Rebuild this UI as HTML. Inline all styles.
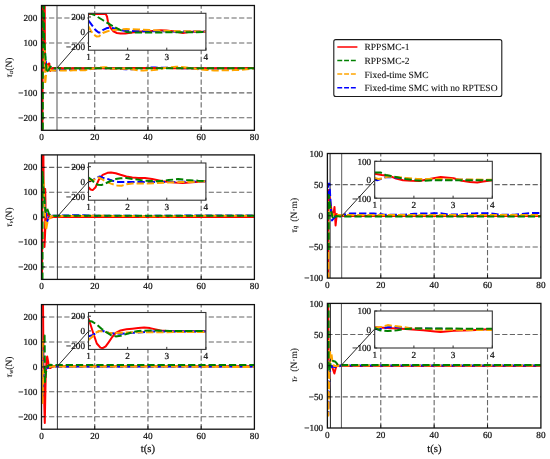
<!DOCTYPE html>
<html><head><meta charset="utf-8"><style>
html,body{margin:0;padding:0;background:#fff;}
body{width:550px;height:459px;overflow:hidden;}
svg{display:block;}
</style></head><body>
<svg width="550" height="459" viewBox="0 0 550 459" font-family='"Liberation Serif", "DejaVu Serif", serif' fill="#111111">
<style>text{stroke:#111;stroke-width:0.22px;text-rendering:geometricPrecision;}</style>
<rect width="550" height="459" fill="#ffffff"/>
<defs>
<clipPath id="c0"><rect x="41.5" y="5.5" width="212.9" height="124.8"/></clipPath>
<clipPath id="c1"><rect x="41.5" y="154.9" width="212.9" height="124.5"/></clipPath>
<clipPath id="c2"><rect x="41.5" y="304.6" width="212.9" height="124.6"/></clipPath>
<clipPath id="c3"><rect x="327.4" y="153.5" width="213.5" height="124.6"/></clipPath>
<clipPath id="c4"><rect x="327.4" y="303.4" width="213.5" height="124.6"/></clipPath>
<clipPath id="c5"><rect x="88.5" y="13.3" width="117.4" height="36.9"/></clipPath>
<clipPath id="c6"><rect x="88.5" y="163" width="117.4" height="37.2"/></clipPath>
<clipPath id="c7"><rect x="88.5" y="312.5" width="117.4" height="36.9"/></clipPath>
<clipPath id="c8"><rect x="374.7" y="161.3" width="117.6" height="36.9"/></clipPath>
<clipPath id="c9"><rect x="374.7" y="311" width="117.6" height="37"/></clipPath>
</defs>
<line x1="94.72" y1="130.3" x2="94.72" y2="5.5" stroke="#666666" stroke-width="1.1" stroke-dasharray="5.2 2.4"/>
<line x1="147.95" y1="130.3" x2="147.95" y2="5.5" stroke="#666666" stroke-width="1.1" stroke-dasharray="5.2 2.4"/>
<line x1="201.18" y1="130.3" x2="201.18" y2="5.5" stroke="#666666" stroke-width="1.1" stroke-dasharray="5.2 2.4"/>
<line x1="41.5" y1="117.82" x2="254.4" y2="117.82" stroke="#666666" stroke-width="1.1" stroke-dasharray="5.2 2.4"/>
<line x1="41.5" y1="92.86" x2="254.4" y2="92.86" stroke="#666666" stroke-width="1.1" stroke-dasharray="5.2 2.4"/>
<line x1="41.5" y1="67.9" x2="254.4" y2="67.9" stroke="#666666" stroke-width="1.1" stroke-dasharray="5.2 2.4"/>
<line x1="41.5" y1="42.94" x2="254.4" y2="42.94" stroke="#666666" stroke-width="1.1" stroke-dasharray="5.2 2.4"/>
<line x1="41.5" y1="17.98" x2="254.4" y2="17.98" stroke="#666666" stroke-width="1.1" stroke-dasharray="5.2 2.4"/>
<g clip-path="url(#c0)">
<polyline points="43,20 43,35 45.3,58.5 46.5,66 48,69 51,70 56,70.5 56,70 59.31,69.93 62.61,69.86 65.92,69.79 69.23,69.72 72.53,69.66 75.84,69.59 79.15,69.52 82.45,69.32 85.76,69.07 89.07,68.82 92.37,68.57 95.68,68.32 98.99,68.08 102.29,68.11 105.6,68.28 108.91,68.45 112.21,68.61 115.52,68.78 118.83,68.94 122.13,69.11 125.44,69.27 128.75,69.44 132.05,69.29 135.36,68.96 138.67,68.63 141.97,68.3 145.28,67.97 148.59,67.64 151.89,67.54 155.2,67.6 158.51,67.67 161.81,67.74 165.12,67.8 168.43,67.87 171.73,67.93 175.04,68 178.35,68.09 181.65,68.19 184.96,68.28 188.27,68.37 191.57,68.46 194.88,68.56 198.19,68.65 201.49,68.69 204.8,68.67 208.11,68.64 211.41,68.62 214.72,68.59 218.03,68.57 221.33,68.54 224.64,68.52 227.95,68.5 231.25,68.47 234.56,68.45 237.87,68.42 241.17,68.4 244.48,68.38 247.79,68.35 251.09,68.33 254.4,68.3" fill="none" stroke="#0000ff" stroke-width="2.0" stroke-dasharray="7.3 2.9" stroke-linejoin="round"/>
<polyline points="42.4,140 42.8,-10 44.7,-10 44.9,62 46.5,70 48.2,64 49.3,63.5 50.2,71 51.5,69 53,68.2 53,68.1 58.03,68.12 63.07,68.14 68.11,68.16 73.14,68.19 78.17,68.21 83.21,68.23 88.25,68.25 93.28,68.27 98.31,68.29 103.35,68.28 108.39,68.25 113.42,68.22 118.46,68.19 123.49,68.16 128.53,68.13 133.56,68.1 138.59,68.07 143.63,68.04 148.66,68.01 153.7,68.02 158.74,68.05 163.77,68.08 168.81,68.11 173.84,68.14 178.88,68.17 183.91,68.2 188.94,68.23 193.98,68.26 199.02,68.29 204.05,68.29 209.09,68.27 214.12,68.25 219.16,68.23 224.19,68.21 229.22,68.19 234.26,68.18 239.3,68.16 244.33,68.14 249.37,68.12 254.4,68.1" fill="none" stroke="#ff0000" stroke-width="2.0" stroke-linejoin="round"/>
<polyline points="44.6,45 45.2,84 46,75 47.5,66 49.5,68 51,70.5 53,70.5 53,70.5 55.52,70.48 58.03,70.47 60.55,70.45 63.07,70.44 65.59,70.42 68.11,70.41 70.62,70.39 73.14,70.37 75.66,70.36 78.17,70.34 80.69,70.33 83.21,70.31 85.73,70.13 88.25,69.55 90.76,68.97 93.28,68.4 95.8,67.92 98.31,67.67 100.83,67.42 103.35,67.17 105.87,67.21 108.39,67.82 110.9,68.43 113.42,68.7 115.94,68.7 118.46,68.7 120.97,68.7 123.49,68.7 126.01,68.7 128.53,68.78 131.04,69.16 133.56,69.53 136.08,69.91 138.59,70.29 141.11,70.46 143.63,70.38 146.15,70.3 148.66,70.21 151.18,70.13 153.7,70.04 156.22,69.76 158.74,69.25 161.25,68.75 163.77,68.25 166.29,67.85 168.81,67.56 171.32,67.27 173.84,66.98 176.36,66.69 178.88,66.61 181.39,66.92 183.91,67.24 186.43,67.55 188.94,67.87 191.46,68.22 193.98,68.6 196.5,68.97 199.02,69.35 201.53,69.6 204.05,69.77 206.57,69.94 209.09,70.11 211.6,70.27 214.12,70.44 216.64,70.47 219.16,70.42 221.67,70.37 224.19,70.32 226.71,70.27 229.22,70.22 231.74,70.17 234.26,70.11 236.78,70.06 239.3,70.01 241.81,69.82 244.33,69.57 246.85,69.32 249.37,69.06 251.88,68.81 254.4,68.56" fill="none" stroke="#ffa500" stroke-width="2.0" stroke-dasharray="7.3 2.9" stroke-linejoin="round"/>
<polyline points="42.8,140 42.8,-10 43.8,-10 44.2,40 46,64 46.6,72.5 48.5,70 50.5,66.5 52,68.2 52,68.2 57.06,68.2 62.12,68.2 67.18,68.2 72.24,68.2 77.3,68.2 82.36,68.2 87.42,68.2 92.48,68.2 97.54,68.2 102.6,68.2 107.66,68.2 112.72,68.2 117.78,68.2 122.84,68.2 127.9,68.2 132.96,68.2 138.02,68.2 143.08,68.2 148.14,68.2 153.2,68.2 158.26,68.2 163.32,68.2 168.38,68.2 173.44,68.2 178.5,68.2 183.56,68.2 188.62,68.2 193.68,68.2 198.74,68.2 203.8,68.2 208.86,68.2 213.92,68.2 218.98,68.2 224.04,68.2 229.1,68.2 234.16,68.2 239.22,68.2 244.28,68.2 249.34,68.2 254.4,68.2" fill="none" stroke="#008000" stroke-width="2.0" stroke-dasharray="7.3 2.9" stroke-linejoin="round"/>
</g>
<line x1="57.0" y1="5.5" x2="57.0" y2="130.3" stroke="#8c8c8c" stroke-width="1.5"/>
<line x1="94.72" y1="130.3" x2="94.72" y2="126.8" stroke="#111111" stroke-width="0.9"/>
<line x1="147.95" y1="130.3" x2="147.95" y2="126.8" stroke="#111111" stroke-width="0.9"/>
<line x1="201.18" y1="130.3" x2="201.18" y2="126.8" stroke="#111111" stroke-width="0.9"/>
<line x1="41.5" y1="117.82" x2="45" y2="117.82" stroke="#111111" stroke-width="0.9"/>
<line x1="41.5" y1="92.86" x2="45" y2="92.86" stroke="#111111" stroke-width="0.9"/>
<line x1="41.5" y1="67.9" x2="45" y2="67.9" stroke="#111111" stroke-width="0.9"/>
<line x1="41.5" y1="42.94" x2="45" y2="42.94" stroke="#111111" stroke-width="0.9"/>
<line x1="41.5" y1="17.98" x2="45" y2="17.98" stroke="#111111" stroke-width="0.9"/>
<rect x="41.5" y="5.5" width="212.9" height="124.8" fill="none" stroke="#111111" stroke-width="1.3"/>
<text x="41.5" y="140.3" font-size="9.2" text-anchor="middle">0</text>
<text x="94.72" y="140.3" font-size="9.2" text-anchor="middle">20</text>
<text x="147.95" y="140.3" font-size="9.2" text-anchor="middle">40</text>
<text x="201.18" y="140.3" font-size="9.2" text-anchor="middle">60</text>
<text x="254.4" y="140.3" font-size="9.2" text-anchor="middle">80</text>
<text x="37.3" y="120.92" font-size="9.2" text-anchor="end">−200</text>
<text x="37.3" y="95.96" font-size="9.2" text-anchor="end">−100</text>
<text x="37.3" y="71" font-size="9.2" text-anchor="end">0</text>
<text x="37.3" y="46.04" font-size="9.2" text-anchor="end">100</text>
<text x="37.3" y="21.08" font-size="9.2" text-anchor="end">200</text>
<line x1="94.72" y1="279.4" x2="94.72" y2="154.9" stroke="#666666" stroke-width="1.1" stroke-dasharray="5.2 2.4"/>
<line x1="147.95" y1="279.4" x2="147.95" y2="154.9" stroke="#666666" stroke-width="1.1" stroke-dasharray="5.2 2.4"/>
<line x1="201.18" y1="279.4" x2="201.18" y2="154.9" stroke="#666666" stroke-width="1.1" stroke-dasharray="5.2 2.4"/>
<line x1="41.5" y1="266.95" x2="254.4" y2="266.95" stroke="#666666" stroke-width="1.1" stroke-dasharray="5.2 2.4"/>
<line x1="41.5" y1="242.05" x2="254.4" y2="242.05" stroke="#666666" stroke-width="1.1" stroke-dasharray="5.2 2.4"/>
<line x1="41.5" y1="217.15" x2="254.4" y2="217.15" stroke="#666666" stroke-width="1.1" stroke-dasharray="5.2 2.4"/>
<line x1="41.5" y1="192.25" x2="254.4" y2="192.25" stroke="#666666" stroke-width="1.1" stroke-dasharray="5.2 2.4"/>
<line x1="41.5" y1="167.35" x2="254.4" y2="167.35" stroke="#666666" stroke-width="1.1" stroke-dasharray="5.2 2.4"/>
<g clip-path="url(#c1)">
<polyline points="42,290 42.4,150 43.4,150 43.6,189 45.2,189 45.5,205 44.5,247 45.6,222 47,214 49,216 51,217.5 53,217.1 53,217.1 58.03,217.1 63.07,217.1 68.11,217.1 73.14,217.1 78.17,217.1 83.21,217.1 88.25,217.1 93.28,217.1 98.31,217.1 103.35,217.1 108.39,217.1 113.42,217.1 118.46,217.1 123.49,217.1 128.53,217.1 133.56,217.1 138.59,217.1 143.63,217.1 148.66,217.1 153.7,217.1 158.74,217.1 163.77,217.1 168.81,217.1 173.84,217.1 178.88,217.1 183.91,217.1 188.94,217.1 193.98,217.1 199.02,217.1 204.05,217.1 209.09,217.1 214.12,217.1 219.16,217.1 224.19,217.1 229.22,217.1 234.26,217.1 239.3,217.1 244.33,217.1 249.37,217.1 254.4,217.1" fill="none" stroke="#ff0000" stroke-width="2.0" stroke-linejoin="round"/>
<polyline points="43.8,190 45,208 47,222 48.5,218 50,216 50,215.8 54.09,215.72 58.18,215.64 62.26,215.55 66.35,215.47 70.44,215.39 74.53,215.31 78.62,215.23 82.7,215.28 86.79,215.4 90.88,215.53 94.97,215.65 99.06,215.77 103.14,215.81 107.23,215.81 111.32,215.82 115.41,215.83 119.5,215.84 123.58,215.85 127.67,215.86 131.76,215.86 135.85,215.87 139.94,215.88 144.02,215.89 148.11,215.9 152.2,215.88 156.29,215.85 160.38,215.82 164.46,215.78 168.55,215.75 172.64,215.72 176.73,215.69 180.82,215.65 184.9,215.62 188.99,215.59 193.08,215.56 197.17,215.52 201.26,215.5 205.34,215.49 209.43,215.48 213.52,215.48 217.61,215.47 221.7,215.46 225.78,215.45 229.87,215.45 233.96,215.44 238.05,215.43 242.14,215.42 246.22,215.42 250.31,215.41 254.4,215.4" fill="none" stroke="#0000ff" stroke-width="2.0" stroke-dasharray="7.3 2.9" stroke-linejoin="round"/>
<polyline points="43.5,180 44.5,205 46,230 47.5,222 49,219 51,217 51,216.2 55.07,216.17 59.14,216.13 63.2,216.1 67.27,216.07 71.34,216.03 75.41,216 79.48,215.97 83.54,215.93 87.61,215.9 91.68,215.87 95.75,215.83 99.82,215.8 103.88,215.83 107.95,215.87 112.02,215.9 116.09,215.93 120.16,215.97 124.22,216 128.29,216.04 132.36,216.07 136.43,216.1 140.5,216.14 144.56,216.17 148.63,216.21 152.7,216.24 156.77,216.27 160.84,216.29 164.9,216.24 168.97,216.19 173.04,216.14 177.11,216.09 181.18,216.04 185.24,215.98 189.31,215.93 193.38,215.88 197.45,215.83 201.52,215.8 205.58,215.79 209.65,215.78 213.72,215.78 217.79,215.77 221.86,215.76 225.92,215.75 229.99,215.75 234.06,215.74 238.13,215.73 242.2,215.72 246.26,215.72 250.33,215.71 254.4,215.7" fill="none" stroke="#ffa500" stroke-width="2.0" stroke-dasharray="7.3 2.9" stroke-linejoin="round"/>
<polyline points="42.5,290 42.5,172 43.2,185 44.5,200 45.5,212 47,208 49,214 51,215.5 53,215.7 53,215.7 58.03,215.7 63.07,215.7 68.11,215.7 73.14,215.7 78.17,215.7 83.21,215.7 88.25,215.7 93.28,215.7 98.31,215.7 103.35,215.7 108.39,215.7 113.42,215.7 118.46,215.7 123.49,215.7 128.53,215.7 133.56,215.7 138.59,215.7 143.63,215.7 148.66,215.7 153.7,215.7 158.74,215.7 163.77,215.7 168.81,215.7 173.84,215.7 178.88,215.7 183.91,215.7 188.94,215.7 193.98,215.7 199.02,215.7 204.05,215.7 209.09,215.7 214.12,215.7 219.16,215.7 224.19,215.7 229.22,215.7 234.26,215.7 239.3,215.7 244.33,215.7 249.37,215.7 254.4,215.7" fill="none" stroke="#008000" stroke-width="2.0" stroke-dasharray="7.3 2.9" stroke-linejoin="round"/>
</g>
<line x1="57.4" y1="154.9" x2="57.4" y2="279.4" stroke="#3a3a3a" stroke-width="1.0"/>
<line x1="94.72" y1="279.4" x2="94.72" y2="275.9" stroke="#111111" stroke-width="0.9"/>
<line x1="147.95" y1="279.4" x2="147.95" y2="275.9" stroke="#111111" stroke-width="0.9"/>
<line x1="201.18" y1="279.4" x2="201.18" y2="275.9" stroke="#111111" stroke-width="0.9"/>
<line x1="41.5" y1="266.95" x2="45" y2="266.95" stroke="#111111" stroke-width="0.9"/>
<line x1="41.5" y1="242.05" x2="45" y2="242.05" stroke="#111111" stroke-width="0.9"/>
<line x1="41.5" y1="217.15" x2="45" y2="217.15" stroke="#111111" stroke-width="0.9"/>
<line x1="41.5" y1="192.25" x2="45" y2="192.25" stroke="#111111" stroke-width="0.9"/>
<line x1="41.5" y1="167.35" x2="45" y2="167.35" stroke="#111111" stroke-width="0.9"/>
<rect x="41.5" y="154.9" width="212.9" height="124.5" fill="none" stroke="#111111" stroke-width="1.3"/>
<text x="41.5" y="289.4" font-size="9.2" text-anchor="middle">0</text>
<text x="94.72" y="289.4" font-size="9.2" text-anchor="middle">20</text>
<text x="147.95" y="289.4" font-size="9.2" text-anchor="middle">40</text>
<text x="201.18" y="289.4" font-size="9.2" text-anchor="middle">60</text>
<text x="254.4" y="289.4" font-size="9.2" text-anchor="middle">80</text>
<text x="37.3" y="270.05" font-size="9.2" text-anchor="end">−200</text>
<text x="37.3" y="245.15" font-size="9.2" text-anchor="end">−100</text>
<text x="37.3" y="220.25" font-size="9.2" text-anchor="end">0</text>
<text x="37.3" y="195.35" font-size="9.2" text-anchor="end">100</text>
<text x="37.3" y="170.45" font-size="9.2" text-anchor="end">200</text>
<line x1="94.72" y1="429.2" x2="94.72" y2="304.6" stroke="#666666" stroke-width="1.1" stroke-dasharray="5.2 2.4"/>
<line x1="147.95" y1="429.2" x2="147.95" y2="304.6" stroke="#666666" stroke-width="1.1" stroke-dasharray="5.2 2.4"/>
<line x1="201.18" y1="429.2" x2="201.18" y2="304.6" stroke="#666666" stroke-width="1.1" stroke-dasharray="5.2 2.4"/>
<line x1="41.5" y1="416.74" x2="254.4" y2="416.74" stroke="#666666" stroke-width="1.1" stroke-dasharray="5.2 2.4"/>
<line x1="41.5" y1="391.82" x2="254.4" y2="391.82" stroke="#666666" stroke-width="1.1" stroke-dasharray="5.2 2.4"/>
<line x1="41.5" y1="366.9" x2="254.4" y2="366.9" stroke="#666666" stroke-width="1.1" stroke-dasharray="5.2 2.4"/>
<line x1="41.5" y1="341.98" x2="254.4" y2="341.98" stroke="#666666" stroke-width="1.1" stroke-dasharray="5.2 2.4"/>
<line x1="41.5" y1="317.06" x2="254.4" y2="317.06" stroke="#666666" stroke-width="1.1" stroke-dasharray="5.2 2.4"/>
<g clip-path="url(#c2)">
<polyline points="43,290 43,300 43.6,380 44.8,423 45.6,380 46.5,360 47.2,356.5 48.2,362 49,368 50.5,368 53,366.3 53,366.2 58.03,366.2 63.07,366.2 68.11,366.2 73.14,366.2 78.17,366.2 83.21,366.2 88.25,366.2 93.28,366.2 98.31,366.2 103.35,366.2 108.39,366.2 113.42,366.2 118.46,366.2 123.49,366.2 128.53,366.2 133.56,366.2 138.59,366.2 143.63,366.2 148.66,366.2 153.7,366.2 158.74,366.2 163.77,366.2 168.81,366.2 173.84,366.2 178.88,366.2 183.91,366.2 188.94,366.2 193.98,366.2 199.02,366.2 204.05,366.2 209.09,366.2 214.12,366.2 219.16,366.2 224.19,366.2 229.22,366.2 234.26,366.2 239.3,366.2 244.33,366.2 249.37,366.2 254.4,366.2" fill="none" stroke="#ff0000" stroke-width="2.0" stroke-linejoin="round"/>
<polyline points="43,350 42.8,395 43.4,375 45,370 47,368 50,366.6 50,366.4 55.11,366.4 60.22,366.4 65.33,366.4 70.44,366.4 75.55,366.4 80.66,366.4 85.77,366.4 90.88,366.4 95.99,366.4 101.1,366.4 106.21,366.4 111.32,366.4 116.43,366.4 121.54,366.4 126.65,366.4 131.76,366.4 136.87,366.4 141.98,366.4 147.09,366.4 152.2,366.4 157.31,366.4 162.42,366.4 167.53,366.4 172.64,366.4 177.75,366.4 182.86,366.4 187.97,366.4 193.08,366.4 198.19,366.4 203.3,366.4 208.41,366.4 213.52,366.4 218.63,366.4 223.74,366.4 228.85,366.4 233.96,366.4 239.07,366.4 244.18,366.4 249.29,366.4 254.4,366.4" fill="none" stroke="#0000ff" stroke-width="2.0" stroke-dasharray="7.3 2.9" stroke-linejoin="round"/>
<polyline points="42.6,340 42.4,403 43.2,380 44,370 46,368 50,367 50,366.6 55.11,366.6 60.22,366.6 65.33,366.6 70.44,366.6 75.55,366.6 80.66,366.6 85.77,366.6 90.88,366.6 95.99,366.6 101.1,366.6 106.21,366.6 111.32,366.6 116.43,366.6 121.54,366.6 126.65,366.6 131.76,366.6 136.87,366.6 141.98,366.6 147.09,366.6 152.2,366.6 157.31,366.6 162.42,366.6 167.53,366.6 172.64,366.6 177.75,366.6 182.86,366.6 187.97,366.6 193.08,366.63 198.19,366.68 203.3,366.73 208.41,366.78 213.52,366.82 218.63,366.84 223.74,366.86 228.85,366.88 233.96,366.91 239.07,366.93 244.18,366.95 249.29,366.97 254.4,367" fill="none" stroke="#ffa500" stroke-width="2.0" stroke-dasharray="7.3 2.9" stroke-linejoin="round"/>
<polyline points="44.2,335.5 44.6,335.5 45,382 46,372 47.5,366 50,364.8 53,365 53,365 58.03,365 63.07,365 68.11,365 73.14,365 78.17,365 83.21,365 88.25,365 93.28,365 98.31,365 103.35,365 108.39,365 113.42,365 118.46,365 123.49,365 128.53,365 133.56,365 138.59,365 143.63,365 148.66,365 153.7,365 158.74,365 163.77,365 168.81,365 173.84,365 178.88,365 183.91,365 188.94,365 193.98,365 199.02,365 204.05,365 209.09,365 214.12,365 219.16,365 224.19,365 229.22,365 234.26,365 239.3,365 244.33,365 249.37,365 254.4,365" fill="none" stroke="#008000" stroke-width="2.0" stroke-dasharray="7.3 2.9" stroke-linejoin="round"/>
</g>
<line x1="57.4" y1="304.6" x2="57.4" y2="429.2" stroke="#3a3a3a" stroke-width="1.0"/>
<line x1="94.72" y1="429.2" x2="94.72" y2="425.7" stroke="#111111" stroke-width="0.9"/>
<line x1="147.95" y1="429.2" x2="147.95" y2="425.7" stroke="#111111" stroke-width="0.9"/>
<line x1="201.18" y1="429.2" x2="201.18" y2="425.7" stroke="#111111" stroke-width="0.9"/>
<line x1="41.5" y1="416.74" x2="45" y2="416.74" stroke="#111111" stroke-width="0.9"/>
<line x1="41.5" y1="391.82" x2="45" y2="391.82" stroke="#111111" stroke-width="0.9"/>
<line x1="41.5" y1="366.9" x2="45" y2="366.9" stroke="#111111" stroke-width="0.9"/>
<line x1="41.5" y1="341.98" x2="45" y2="341.98" stroke="#111111" stroke-width="0.9"/>
<line x1="41.5" y1="317.06" x2="45" y2="317.06" stroke="#111111" stroke-width="0.9"/>
<rect x="41.5" y="304.6" width="212.9" height="124.6" fill="none" stroke="#111111" stroke-width="1.3"/>
<text x="41.5" y="439.2" font-size="9.2" text-anchor="middle">0</text>
<text x="94.72" y="439.2" font-size="9.2" text-anchor="middle">20</text>
<text x="147.95" y="439.2" font-size="9.2" text-anchor="middle">40</text>
<text x="201.18" y="439.2" font-size="9.2" text-anchor="middle">60</text>
<text x="254.4" y="439.2" font-size="9.2" text-anchor="middle">80</text>
<text x="37.3" y="419.84" font-size="9.2" text-anchor="end">−200</text>
<text x="37.3" y="394.92" font-size="9.2" text-anchor="end">−100</text>
<text x="37.3" y="370" font-size="9.2" text-anchor="end">0</text>
<text x="37.3" y="345.08" font-size="9.2" text-anchor="end">100</text>
<text x="37.3" y="320.16" font-size="9.2" text-anchor="end">200</text>
<line x1="380.77" y1="278.1" x2="380.77" y2="153.5" stroke="#666666" stroke-width="1.1" stroke-dasharray="5.2 2.4"/>
<line x1="434.15" y1="278.1" x2="434.15" y2="153.5" stroke="#666666" stroke-width="1.1" stroke-dasharray="5.2 2.4"/>
<line x1="487.52" y1="278.1" x2="487.52" y2="153.5" stroke="#666666" stroke-width="1.1" stroke-dasharray="5.2 2.4"/>
<line x1="327.4" y1="246.95" x2="540.9" y2="246.95" stroke="#666666" stroke-width="1.1" stroke-dasharray="5.2 2.4"/>
<line x1="327.4" y1="215.8" x2="540.9" y2="215.8" stroke="#666666" stroke-width="1.1" stroke-dasharray="5.2 2.4"/>
<line x1="327.4" y1="184.65" x2="540.9" y2="184.65" stroke="#666666" stroke-width="1.1" stroke-dasharray="5.2 2.4"/>
<line x1="330.1" y1="153.5" x2="330.1" y2="278.1" stroke="#222222" stroke-width="1.0"/>
<g clip-path="url(#c3)">
<polyline points="328.2,300 328.2,190 330,200 332,214 333.5,214 334.5,207 335.6,225.4 336.8,214 338,216 340,216 340,216 345.02,216 350.05,216 355.07,216 360.09,216 365.11,216 370.13,216 375.16,216 380.18,216 385.2,216 390.23,216 395.25,216 400.27,216 405.29,216 410.31,216 415.34,216 420.36,216 425.38,216 430.4,216 435.43,216 440.45,216 445.47,216 450.5,216 455.52,216 460.54,216 465.56,216 470.58,216 475.61,216 480.63,216 485.65,216 490.67,216 495.7,216 500.72,216 505.74,216 510.76,216 515.79,216 520.81,216 525.83,216 530.86,216 535.88,216 540.9,216" fill="none" stroke="#ff0000" stroke-width="2.0" stroke-linejoin="round"/>
<polyline points="328.4,300 328.2,183.8 329.5,183.8 331,210 332,220.5 334,218 336,216 340,215.5 345,214.5 350,213.6 350,213.6 352.39,213.6 354.77,213.6 357.16,213.6 359.55,213.6 361.93,213.6 364.32,213.6 366.7,213.6 369.09,213.6 371.48,213.6 373.86,213.6 376.25,213.74 378.63,214 381.02,214.26 383.41,214.52 385.79,214.7 388.18,214.72 390.57,214.73 392.95,214.74 395.34,214.75 397.73,214.76 400.11,214.78 402.5,214.79 404.88,214.8 407.27,214.55 409.66,214.29 412.04,214.03 414.43,213.76 416.81,213.66 419.2,213.62 421.59,213.57 423.97,213.52 426.36,213.47 428.75,213.43 431.13,213.38 433.52,213.33 435.9,213.28 438.29,213.23 440.68,213.31 443.06,213.7 445.45,214.09 447.84,214.47 450.22,214.52 452.61,214.55 455,214.57 457.38,214.59 459.77,214.42 462.15,214.18 464.54,213.95 466.93,213.71 469.31,213.47 471.7,213.39 474.08,213.38 476.47,213.37 478.86,213.36 481.24,213.34 483.63,213.33 486.02,213.32 488.4,213.31 490.79,213.41 493.17,213.74 495.56,214.08 497.95,214.41 500.33,214.7 502.72,214.7 505.11,214.7 507.49,214.7 509.88,214.7 512.26,214.7 514.65,214.7 517.04,214.48 519.42,214.23 521.81,213.97 524.2,213.72 526.58,213.46 528.97,213.21 531.36,213.09 533.74,213.07 536.13,213.04 538.51,213.02 540.9,213" fill="none" stroke="#0000ff" stroke-width="2.0" stroke-dasharray="7.3 2.9" stroke-linejoin="round"/>
<polyline points="328.6,300 328.6,200 330,210 332,216 334,214 336,215 339,215 339,215.1 344.05,215.1 349.1,215.1 354.14,215.1 359.19,215.1 364.24,215.1 369.28,215.1 374.33,215.1 379.38,215.1 384.43,215.1 389.48,215.1 394.52,215.1 399.57,215.1 404.62,215.1 409.66,215.1 414.71,215.1 419.76,215.1 424.81,215.1 429.86,215.1 434.9,215.1 439.95,215.1 445,215.1 450.04,215.1 455.09,215.1 460.14,215.1 465.19,215.1 470.24,215.1 475.28,215.1 480.33,215.1 485.38,215.1 490.42,215.1 495.47,215.1 500.52,215.1 505.57,215.1 510.62,215.1 515.66,215.1 520.71,215.1 525.76,215.1 530.8,215.1 535.85,215.1 540.9,215.1" fill="none" stroke="#ffa500" stroke-width="2.0" stroke-dasharray="7.3 2.9" stroke-linejoin="round"/>
<polyline points="328.7,250 328.7,195 330,205 331.5,213 333,219 335,217 337,216 340,216.5 340,216.6 345.02,216.6 350.05,216.6 355.07,216.6 360.09,216.6 365.11,216.6 370.13,216.6 375.16,216.6 380.18,216.6 385.2,216.6 390.23,216.6 395.25,216.6 400.27,216.6 405.29,216.6 410.31,216.6 415.34,216.6 420.36,216.6 425.38,216.6 430.4,216.6 435.43,216.6 440.45,216.6 445.47,216.6 450.5,216.6 455.52,216.6 460.54,216.6 465.56,216.6 470.58,216.6 475.61,216.6 480.63,216.6 485.65,216.6 490.67,216.6 495.7,216.6 500.72,216.6 505.74,216.6 510.76,216.6 515.79,216.6 520.81,216.6 525.83,216.6 530.86,216.6 535.88,216.6 540.9,216.6" fill="none" stroke="#008000" stroke-width="2.0" stroke-dasharray="7.3 2.9" stroke-linejoin="round"/>
</g>
<line x1="341.7" y1="153.5" x2="341.7" y2="278.1" stroke="#5a5a5a" stroke-width="1.0"/>
<line x1="380.77" y1="278.1" x2="380.77" y2="274.6" stroke="#111111" stroke-width="0.9"/>
<line x1="434.15" y1="278.1" x2="434.15" y2="274.6" stroke="#111111" stroke-width="0.9"/>
<line x1="487.52" y1="278.1" x2="487.52" y2="274.6" stroke="#111111" stroke-width="0.9"/>
<line x1="327.4" y1="246.95" x2="330.9" y2="246.95" stroke="#111111" stroke-width="0.9"/>
<line x1="327.4" y1="215.8" x2="330.9" y2="215.8" stroke="#111111" stroke-width="0.9"/>
<line x1="327.4" y1="184.65" x2="330.9" y2="184.65" stroke="#111111" stroke-width="0.9"/>
<rect x="327.4" y="153.5" width="213.5" height="124.6" fill="none" stroke="#111111" stroke-width="1.3"/>
<text x="327.4" y="288.1" font-size="9.2" text-anchor="middle">0</text>
<text x="380.77" y="288.1" font-size="9.2" text-anchor="middle">20</text>
<text x="434.15" y="288.1" font-size="9.2" text-anchor="middle">40</text>
<text x="487.52" y="288.1" font-size="9.2" text-anchor="middle">60</text>
<text x="540.9" y="288.1" font-size="9.2" text-anchor="middle">80</text>
<text x="323.2" y="281.2" font-size="9.2" text-anchor="end">−100</text>
<text x="323.2" y="250.05" font-size="9.2" text-anchor="end">−50</text>
<text x="323.2" y="218.9" font-size="9.2" text-anchor="end">0</text>
<text x="323.2" y="187.75" font-size="9.2" text-anchor="end">50</text>
<text x="323.2" y="156.6" font-size="9.2" text-anchor="end">100</text>
<line x1="380.77" y1="428" x2="380.77" y2="303.4" stroke="#666666" stroke-width="1.1" stroke-dasharray="5.2 2.4"/>
<line x1="434.15" y1="428" x2="434.15" y2="303.4" stroke="#666666" stroke-width="1.1" stroke-dasharray="5.2 2.4"/>
<line x1="487.52" y1="428" x2="487.52" y2="303.4" stroke="#666666" stroke-width="1.1" stroke-dasharray="5.2 2.4"/>
<line x1="327.4" y1="396.85" x2="540.9" y2="396.85" stroke="#666666" stroke-width="1.1" stroke-dasharray="5.2 2.4"/>
<line x1="327.4" y1="365.7" x2="540.9" y2="365.7" stroke="#666666" stroke-width="1.1" stroke-dasharray="5.2 2.4"/>
<line x1="327.4" y1="334.55" x2="540.9" y2="334.55" stroke="#666666" stroke-width="1.1" stroke-dasharray="5.2 2.4"/>
<line x1="330.4" y1="303.4" x2="330.4" y2="428" stroke="#222222" stroke-width="1.0"/>
<g clip-path="url(#c4)">
<polyline points="328,290 328.2,303 328.6,360 330,366 332,366 333.5,371 334.4,373.5 335.5,369 337,365 339,365.8 339,365.9 344.05,365.9 349.1,365.9 354.14,365.9 359.19,365.9 364.24,365.9 369.28,365.9 374.33,365.9 379.38,365.9 384.43,365.9 389.48,365.9 394.52,365.9 399.57,365.9 404.62,365.9 409.66,365.9 414.71,365.9 419.76,365.9 424.81,365.9 429.86,365.9 434.9,365.9 439.95,365.9 445,365.9 450.04,365.9 455.09,365.9 460.14,365.9 465.19,365.9 470.24,365.9 475.28,365.9 480.33,365.9 485.38,365.9 490.42,365.9 495.47,365.9 500.52,365.9 505.57,365.9 510.62,365.9 515.66,365.9 520.71,365.9 525.76,365.9 530.8,365.9 535.85,365.9 540.9,365.9" fill="none" stroke="#ff0000" stroke-width="2.0" stroke-linejoin="round"/>
<polyline points="328.3,360 328.3,415 329.5,375 331,366 335,367 340,366 340,365.5 345.02,365.5 350.05,365.5 355.07,365.5 360.09,365.5 365.11,365.5 370.13,365.5 375.16,365.5 380.18,365.5 385.2,365.5 390.23,365.5 395.25,365.5 400.27,365.5 405.29,365.5 410.31,365.5 415.34,365.5 420.36,365.5 425.38,365.5 430.4,365.5 435.43,365.5 440.45,365.5 445.47,365.5 450.5,365.5 455.52,365.5 460.54,365.5 465.56,365.5 470.58,365.5 475.61,365.5 480.63,365.5 485.65,365.5 490.67,365.5 495.7,365.5 500.72,365.5 505.74,365.5 510.76,365.5 515.79,365.5 520.81,365.5 525.83,365.5 530.86,365.5 535.88,365.5 540.9,365.5" fill="none" stroke="#0000ff" stroke-width="2.0" stroke-dasharray="7.3 2.9" stroke-linejoin="round"/>
<polyline points="328.3,340 328.3,415.6 329.3,380 330.2,352 331.2,351.8 332.5,362 334,366 337,366 340,365.5 340,365.5 345.02,365.5 350.05,365.5 355.07,365.5 360.09,365.5 365.11,365.5 370.13,365.5 375.16,365.5 380.18,365.5 385.2,365.5 390.23,365.5 395.25,365.5 400.27,365.5 405.29,365.5 410.31,365.5 415.34,365.5 420.36,365.5 425.38,365.5 430.4,365.5 435.43,365.5 440.45,365.5 445.47,365.5 450.5,365.5 455.52,365.5 460.54,365.5 465.56,365.5 470.58,365.5 475.61,365.5 480.63,365.5 485.65,365.5 490.67,365.5 495.7,365.5 500.72,365.5 505.74,365.5 510.76,365.5 515.79,365.5 520.81,365.5 525.83,365.5 530.86,365.5 535.88,365.5 540.9,365.5" fill="none" stroke="#ffa500" stroke-width="2.0" stroke-dasharray="7.3 2.9" stroke-linejoin="round"/>
<polyline points="328.6,290 328.6,371 329.8,368 331,362 333,361 335,361.5 336.5,363 338,365 341,364.9 341,364.9 346,364.9 351,364.9 355.99,364.9 360.99,364.9 365.99,364.9 370.99,364.9 375.98,364.9 380.98,364.9 385.98,364.9 390.98,364.9 395.97,364.9 400.97,364.9 405.97,364.9 410.96,364.9 415.96,364.9 420.96,364.9 425.96,364.9 430.95,364.9 435.95,364.9 440.95,364.9 445.95,364.9 450.94,364.9 455.94,364.9 460.94,364.9 465.94,364.9 470.94,364.9 475.93,364.9 480.93,364.9 485.93,364.9 490.92,364.9 495.92,364.9 500.92,364.9 505.92,364.9 510.91,364.9 515.91,364.9 520.91,364.9 525.91,364.9 530.9,364.9 535.9,364.9 540.9,364.9" fill="none" stroke="#008000" stroke-width="2.0" stroke-dasharray="7.3 2.9" stroke-linejoin="round"/>
</g>
<line x1="341.4" y1="303.4" x2="341.4" y2="428" stroke="#555555" stroke-width="1.0"/>
<line x1="380.77" y1="428" x2="380.77" y2="424.5" stroke="#111111" stroke-width="0.9"/>
<line x1="434.15" y1="428" x2="434.15" y2="424.5" stroke="#111111" stroke-width="0.9"/>
<line x1="487.52" y1="428" x2="487.52" y2="424.5" stroke="#111111" stroke-width="0.9"/>
<line x1="327.4" y1="396.85" x2="330.9" y2="396.85" stroke="#111111" stroke-width="0.9"/>
<line x1="327.4" y1="365.7" x2="330.9" y2="365.7" stroke="#111111" stroke-width="0.9"/>
<line x1="327.4" y1="334.55" x2="330.9" y2="334.55" stroke="#111111" stroke-width="0.9"/>
<rect x="327.4" y="303.4" width="213.5" height="124.6" fill="none" stroke="#111111" stroke-width="1.3"/>
<text x="327.4" y="438" font-size="9.2" text-anchor="middle">0</text>
<text x="380.77" y="438" font-size="9.2" text-anchor="middle">20</text>
<text x="434.15" y="438" font-size="9.2" text-anchor="middle">40</text>
<text x="487.52" y="438" font-size="9.2" text-anchor="middle">60</text>
<text x="540.9" y="438" font-size="9.2" text-anchor="middle">80</text>
<text x="323.2" y="431.1" font-size="9.2" text-anchor="end">−100</text>
<text x="323.2" y="399.95" font-size="9.2" text-anchor="end">−50</text>
<text x="323.2" y="368.8" font-size="9.2" text-anchor="end">0</text>
<text x="323.2" y="337.65" font-size="9.2" text-anchor="end">50</text>
<text x="323.2" y="306.5" font-size="9.2" text-anchor="end">100</text>
<text transform="translate(12,67.5) rotate(-90)" font-size="9.5" text-anchor="middle" style="stroke-width:0.08px"><tspan font-style="italic">τ</tspan><tspan font-size="6.6" font-style="italic" dy="0.8">u</tspan><tspan dy="-0.8" dx="0">(N)</tspan></text>
<text transform="translate(12,217.2) rotate(-90)" font-size="9.5" text-anchor="middle" style="stroke-width:0.08px"><tspan font-style="italic">τ</tspan><tspan font-size="6.6" font-style="italic" dy="0.8">v</tspan><tspan dy="-0.8" dx="0">(N)</tspan></text>
<text transform="translate(12,367) rotate(-90)" font-size="9.5" text-anchor="middle" style="stroke-width:0.08px"><tspan font-style="italic">τ</tspan><tspan font-size="6.6" font-style="italic" dy="0.8">w</tspan><tspan dy="-0.8" dx="0">(N)</tspan></text>
<text transform="translate(296.6,215.3) rotate(-90)" font-size="9.5" text-anchor="middle" style="stroke-width:0.08px"><tspan font-style="italic">τ</tspan><tspan font-size="6.6" font-style="italic" dy="0.8">q</tspan><tspan dy="-0.8" dx="2"> (N·m)</tspan></text>
<text transform="translate(296.6,365.1) rotate(-90)" font-size="9.5" text-anchor="middle" style="stroke-width:0.08px"><tspan font-style="italic">τ</tspan><tspan font-size="6.6" font-style="italic" dy="0.8">r</tspan><tspan dy="-0.8" dx="2"> (N·m)</tspan></text>
<text x="147.9" y="451.8" font-size="10.7" text-anchor="middle">t(s)</text>
<text x="434.4" y="451.8" font-size="10.7" text-anchor="middle">t(s)</text>
<line x1="57" y1="68" x2="88.6" y2="31.6" stroke="#111111" stroke-width="0.9"/>
<rect x="88.5" y="13.3" width="117.4" height="36.9" fill="#ffffff"/>
<g clip-path="url(#c5)">
<polyline points="88.5,14 105.7,14 107,16.5 108,21.8 110.4,27.7 113.4,31.3 116.9,33 120.5,33.6 125.2,33.4 132.3,32.5 138.2,31.6 150,31.3 160,30.2 166,30.4 175,31.6 183,33 190,31.8 205.9,31.8" fill="none" stroke="#ff0000" stroke-width="2.0" stroke-linejoin="round"/>
<polyline points="88.5,20.6 92.1,25.4 95.6,30.1 98.6,32.5 100.4,32.5 102.7,30.1 106.3,28.3 109.8,27.7 113.4,28.3 118.1,29.5 124,30.7 132.3,31 150,31.3 205.9,31.6" fill="none" stroke="#0000ff" stroke-width="2.0" stroke-dasharray="7.3 2.9" stroke-linejoin="round"/>
<polyline points="88.5,26.5 90.9,30.7 93.3,34.2 96.8,36.6 99.2,36.2 102.7,33 107.5,31.3 113.4,30.1 120.5,29.5 126.4,29.1 138.2,29.5 150,30.1 170,31 205.9,31.5" fill="none" stroke="#ffa500" stroke-width="2.0" stroke-dasharray="7.3 2.9" stroke-linejoin="round"/>
<polyline points="88.5,12.8 92,14.1 93.9,14.7 102.7,20 108.6,23.6 114.5,27.1 120.5,30.1 126.4,31.9 132.3,32.5 150,32.5 170,32.3 190,32.2 205.9,32" fill="none" stroke="#008000" stroke-width="2.0" stroke-dasharray="7.3 2.9" stroke-linejoin="round"/>
</g>
<line x1="88.5" y1="50.2" x2="88.5" y2="47.7" stroke="#1a1a1a" stroke-width="0.9"/>
<line x1="127.63" y1="50.2" x2="127.63" y2="47.7" stroke="#1a1a1a" stroke-width="0.9"/>
<line x1="166.77" y1="50.2" x2="166.77" y2="47.7" stroke="#1a1a1a" stroke-width="0.9"/>
<line x1="205.9" y1="50.2" x2="205.9" y2="47.7" stroke="#1a1a1a" stroke-width="0.9"/>
<line x1="88.5" y1="46.51" x2="91" y2="46.51" stroke="#1a1a1a" stroke-width="0.9"/>
<line x1="88.5" y1="31.75" x2="91" y2="31.75" stroke="#1a1a1a" stroke-width="0.9"/>
<line x1="88.5" y1="16.99" x2="91" y2="16.99" stroke="#1a1a1a" stroke-width="0.9"/>
<rect x="88.5" y="13.3" width="117.4" height="36.9" fill="none" stroke="#333333" stroke-width="1.1"/>
<text x="88.5" y="59.7" font-size="9.2" text-anchor="middle">1</text>
<text x="127.63" y="59.7" font-size="9.2" text-anchor="middle">2</text>
<text x="166.77" y="59.7" font-size="9.2" text-anchor="middle">3</text>
<text x="205.9" y="59.7" font-size="9.2" text-anchor="middle">4</text>
<text x="85" y="49.81" font-size="9.2" text-anchor="end">−200</text>
<text x="85" y="35.05" font-size="9.2" text-anchor="end">0</text>
<text x="85" y="20.29" font-size="9.2" text-anchor="end">200</text>
<line x1="57.4" y1="216.6" x2="88.5" y2="181.4" stroke="#111111" stroke-width="0.9"/>
<rect x="88.5" y="163" width="117.4" height="37.2" fill="#ffffff"/>
<g clip-path="url(#c6)">
<polyline points="88.5,187.2 90.5,189.5 92.7,190.1 95.6,187.2 98.6,180.1 102.7,174.8 107.5,172.8 111,172.4 115.7,173.2 120.5,174.8 126.4,176.5 132.3,177.5 138.2,178 145,178 152.1,178.9 162.7,181.3 174.6,182.5 182.8,183 192.3,182.2 205.9,181.3" fill="none" stroke="#ff0000" stroke-width="2.0" stroke-linejoin="round"/>
<polyline points="88.5,181.3 92.1,180.7 96.2,177.7 99.8,176.5 102.7,177.7 107.5,178.9 112.2,180.7 118.1,181.9 124,181.9 145,181.9 170,182 205.9,181.3" fill="none" stroke="#0000ff" stroke-width="2.0" stroke-dasharray="7.3 2.9" stroke-linejoin="round"/>
<polyline points="88.5,179.5 92.1,180.7 95.6,178.9 98.6,177.5 101.5,178.9 105.7,181.3 111,183.6 116.9,185.4 121.6,185.8 126.4,184.2 132.3,183.6 145,183.6 156.8,183 168.6,182.5 180.5,182.1 192.3,181.9 205.9,181.3" fill="none" stroke="#ffa500" stroke-width="2.0" stroke-dasharray="7.3 2.9" stroke-linejoin="round"/>
<polyline points="88.5,177.5 92.1,180.1 95,183.6 98,184.8 101.5,185 105.1,183.6 109.8,181.3 115.7,179.1 120.5,178.3 126.4,178 132.3,178.9 145,180.7 156.8,181.3 168.6,180.1 178.1,179.1 186.4,179.9 198.2,180.7 205.9,181" fill="none" stroke="#008000" stroke-width="2.0" stroke-dasharray="7.3 2.9" stroke-linejoin="round"/>
</g>
<line x1="88.5" y1="200.2" x2="88.5" y2="197.7" stroke="#1a1a1a" stroke-width="0.9"/>
<line x1="127.63" y1="200.2" x2="127.63" y2="197.7" stroke="#1a1a1a" stroke-width="0.9"/>
<line x1="166.77" y1="200.2" x2="166.77" y2="197.7" stroke="#1a1a1a" stroke-width="0.9"/>
<line x1="205.9" y1="200.2" x2="205.9" y2="197.7" stroke="#1a1a1a" stroke-width="0.9"/>
<line x1="88.5" y1="196.48" x2="91" y2="196.48" stroke="#1a1a1a" stroke-width="0.9"/>
<line x1="88.5" y1="181.6" x2="91" y2="181.6" stroke="#1a1a1a" stroke-width="0.9"/>
<line x1="88.5" y1="166.72" x2="91" y2="166.72" stroke="#1a1a1a" stroke-width="0.9"/>
<rect x="88.5" y="163" width="117.4" height="37.2" fill="none" stroke="#333333" stroke-width="1.1"/>
<text x="88.5" y="209.7" font-size="9.2" text-anchor="middle">1</text>
<text x="127.63" y="209.7" font-size="9.2" text-anchor="middle">2</text>
<text x="166.77" y="209.7" font-size="9.2" text-anchor="middle">3</text>
<text x="205.9" y="209.7" font-size="9.2" text-anchor="middle">4</text>
<text x="85" y="199.78" font-size="9.2" text-anchor="end">−200</text>
<text x="85" y="184.9" font-size="9.2" text-anchor="end">0</text>
<text x="85" y="170.02" font-size="9.2" text-anchor="end">200</text>
<line x1="57.4" y1="366.3" x2="88.6" y2="331.2" stroke="#111111" stroke-width="0.9"/>
<rect x="88.5" y="312.5" width="117.4" height="36.9" fill="#ffffff"/>
<g clip-path="url(#c7)">
<polyline points="88.5,318.6 90.9,325.7 93.9,335.2 96.8,343.5 100.4,347.6 102.7,348.2 105.7,346.4 108.6,342.3 112.2,337 115.7,332.8 120.5,330.5 126.4,329.3 132.3,328.7 138.2,328.1 144.1,327.5 150,328.1 160.4,330.5 170,331.2 205.9,331.2" fill="none" stroke="#ff0000" stroke-width="2.0" stroke-linejoin="round"/>
<polyline points="88.5,336.4 92.1,335.2 95.6,333.4 99.2,331 102.7,331 108.6,332.8 114.5,333.4 120.5,333.8 126.4,333.4 132.3,332.8 141.7,332.2 150,331.6 205.9,331.6" fill="none" stroke="#0000ff" stroke-width="2.0" stroke-dasharray="7.3 2.9" stroke-linejoin="round"/>
<polyline points="88.5,339.9 92.1,337 95.6,332.8 99.2,331 103.9,331.6 108.6,332.8 114.5,333.1 120.5,332.8 132.3,332.2 150,332.2 205.9,332" fill="none" stroke="#ffa500" stroke-width="2.0" stroke-dasharray="7.3 2.9" stroke-linejoin="round"/>
<polyline points="88.5,321 92.1,321.6 96.8,324.5 101.5,328.7 106.3,332.2 111,335.2 115.7,336.4 120.5,335.8 126.4,334 132.3,332.2 138.2,331 150,330.5 170,331 205.9,331" fill="none" stroke="#008000" stroke-width="2.0" stroke-dasharray="7.3 2.9" stroke-linejoin="round"/>
</g>
<line x1="88.5" y1="349.4" x2="88.5" y2="346.9" stroke="#1a1a1a" stroke-width="0.9"/>
<line x1="127.63" y1="349.4" x2="127.63" y2="346.9" stroke="#1a1a1a" stroke-width="0.9"/>
<line x1="166.77" y1="349.4" x2="166.77" y2="346.9" stroke="#1a1a1a" stroke-width="0.9"/>
<line x1="205.9" y1="349.4" x2="205.9" y2="346.9" stroke="#1a1a1a" stroke-width="0.9"/>
<line x1="88.5" y1="345.71" x2="91" y2="345.71" stroke="#1a1a1a" stroke-width="0.9"/>
<line x1="88.5" y1="330.95" x2="91" y2="330.95" stroke="#1a1a1a" stroke-width="0.9"/>
<line x1="88.5" y1="316.19" x2="91" y2="316.19" stroke="#1a1a1a" stroke-width="0.9"/>
<rect x="88.5" y="312.5" width="117.4" height="36.9" fill="none" stroke="#333333" stroke-width="1.1"/>
<text x="88.5" y="358.9" font-size="9.2" text-anchor="middle">1</text>
<text x="127.63" y="358.9" font-size="9.2" text-anchor="middle">2</text>
<text x="166.77" y="358.9" font-size="9.2" text-anchor="middle">3</text>
<text x="205.9" y="358.9" font-size="9.2" text-anchor="middle">4</text>
<text x="85" y="349.01" font-size="9.2" text-anchor="end">−200</text>
<text x="85" y="334.25" font-size="9.2" text-anchor="end">0</text>
<text x="85" y="319.49" font-size="9.2" text-anchor="end">200</text>
<line x1="341.7" y1="216.2" x2="374.7" y2="180.2" stroke="#111111" stroke-width="0.9"/>
<rect x="374.7" y="161.3" width="117.6" height="36.9" fill="#ffffff"/>
<g clip-path="url(#c8)">
<polyline points="374.7,173.7 381.8,174.9 390.1,176.1 396,178.5 403.1,180.2 411.4,180.8 419.6,181.1 426.7,179.6 435,177.9 440.6,177 453.6,178.2 461.9,180.8 470,182 477.3,182.6 483.2,181.4 492.3,180.2" fill="none" stroke="#ff0000" stroke-width="2.0" stroke-linejoin="round"/>
<polyline points="374.7,179.6 377.1,180.2 380.6,179 385.4,177.3 390.1,177 393.6,177.3 400,178 410,179 420,179.6 492.3,180" fill="none" stroke="#0000ff" stroke-width="2.0" stroke-dasharray="7.3 2.9" stroke-linejoin="round"/>
<polyline points="374.7,177.9 378.3,179 381.8,178.5 387.7,176.7 395,177 405.5,177.9 417.3,179 435,179 492.3,179.8" fill="none" stroke="#ffa500" stroke-width="2.0" stroke-dasharray="7.3 2.9" stroke-linejoin="round"/>
<polyline points="374.7,172.5 380.6,172.5 385.4,174.9 391.3,176.1 397.2,177.3 405.5,179 414.9,180.2 423.2,180.8 435,180.2 492.3,180.2" fill="none" stroke="#008000" stroke-width="2.0" stroke-dasharray="7.3 2.9" stroke-linejoin="round"/>
</g>
<line x1="374.7" y1="198.2" x2="374.7" y2="195.7" stroke="#1a1a1a" stroke-width="0.9"/>
<line x1="413.9" y1="198.2" x2="413.9" y2="195.7" stroke="#1a1a1a" stroke-width="0.9"/>
<line x1="453.1" y1="198.2" x2="453.1" y2="195.7" stroke="#1a1a1a" stroke-width="0.9"/>
<line x1="492.3" y1="198.2" x2="492.3" y2="195.7" stroke="#1a1a1a" stroke-width="0.9"/>
<line x1="374.7" y1="198.2" x2="377.2" y2="198.2" stroke="#1a1a1a" stroke-width="0.9"/>
<line x1="374.7" y1="179.75" x2="377.2" y2="179.75" stroke="#1a1a1a" stroke-width="0.9"/>
<line x1="374.7" y1="161.3" x2="377.2" y2="161.3" stroke="#1a1a1a" stroke-width="0.9"/>
<rect x="374.7" y="161.3" width="117.6" height="36.9" fill="none" stroke="#333333" stroke-width="1.1"/>
<text x="374.7" y="207.7" font-size="9.2" text-anchor="middle">1</text>
<text x="413.9" y="207.7" font-size="9.2" text-anchor="middle">2</text>
<text x="453.1" y="207.7" font-size="9.2" text-anchor="middle">3</text>
<text x="492.3" y="207.7" font-size="9.2" text-anchor="middle">4</text>
<text x="371.2" y="201.5" font-size="9.2" text-anchor="end">−100</text>
<text x="371.2" y="183.05" font-size="9.2" text-anchor="end">0</text>
<text x="371.2" y="164.6" font-size="9.2" text-anchor="end">100</text>
<line x1="341.4" y1="365.2" x2="374.7" y2="329" stroke="#111111" stroke-width="0.9"/>
<rect x="374.7" y="311" width="117.6" height="37" fill="#ffffff"/>
<g clip-path="url(#c9)">
<polyline points="374.7,327.3 387.7,327.9 405.5,329 423.2,330.2 435,331.4 440.6,332 453.6,330.8 471.4,330.2 492.3,329" fill="none" stroke="#ff0000" stroke-width="2.0" stroke-linejoin="round"/>
<polyline points="374.7,328.5 378.3,329.6 381.8,328.5 387.7,327.3 393.6,327 405.5,327.9 417.3,328.5 492.3,329.5" fill="none" stroke="#0000ff" stroke-width="2.0" stroke-dasharray="7.3 2.9" stroke-linejoin="round"/>
<polyline points="374.7,327.9 381.8,326.7 387.7,325.1 393.6,325.9 400.7,326.7 409,327.9 417.3,328.5 440,329.8 492.3,330" fill="none" stroke="#ffa500" stroke-width="2.0" stroke-dasharray="7.3 2.9" stroke-linejoin="round"/>
<polyline points="374.7,327.9 379.5,330.2 387.7,331.1 397.2,330.2 405.5,329 417.3,328.5 435,328.5 492.3,328.8" fill="none" stroke="#008000" stroke-width="2.0" stroke-dasharray="7.3 2.9" stroke-linejoin="round"/>
</g>
<line x1="374.7" y1="348" x2="374.7" y2="345.5" stroke="#1a1a1a" stroke-width="0.9"/>
<line x1="413.9" y1="348" x2="413.9" y2="345.5" stroke="#1a1a1a" stroke-width="0.9"/>
<line x1="453.1" y1="348" x2="453.1" y2="345.5" stroke="#1a1a1a" stroke-width="0.9"/>
<line x1="492.3" y1="348" x2="492.3" y2="345.5" stroke="#1a1a1a" stroke-width="0.9"/>
<line x1="374.7" y1="348" x2="377.2" y2="348" stroke="#1a1a1a" stroke-width="0.9"/>
<line x1="374.7" y1="329.5" x2="377.2" y2="329.5" stroke="#1a1a1a" stroke-width="0.9"/>
<line x1="374.7" y1="311" x2="377.2" y2="311" stroke="#1a1a1a" stroke-width="0.9"/>
<rect x="374.7" y="311" width="117.6" height="37" fill="none" stroke="#333333" stroke-width="1.1"/>
<text x="374.7" y="357.5" font-size="9.2" text-anchor="middle">1</text>
<text x="413.9" y="357.5" font-size="9.2" text-anchor="middle">2</text>
<text x="453.1" y="357.5" font-size="9.2" text-anchor="middle">3</text>
<text x="492.3" y="357.5" font-size="9.2" text-anchor="middle">4</text>
<text x="371.2" y="351.3" font-size="9.2" text-anchor="end">−100</text>
<text x="371.2" y="332.8" font-size="9.2" text-anchor="end">0</text>
<text x="371.2" y="314.3" font-size="9.2" text-anchor="end">100</text>
<rect x="333.8" y="39.6" width="168.0" height="56.9" rx="2" ry="2" fill="#ffffff" stroke="#1a1a1a" stroke-width="1.1"/>
<line x1="337.3" y1="47" x2="357.4" y2="47" stroke="#ff0000" stroke-width="1.5"/>
<text x="364.5" y="50.4" font-size="9.5" style="stroke-width:0.1px">RPPSMC-1</text>
<line x1="337.3" y1="60.55" x2="357.4" y2="60.55" stroke="#008000" stroke-width="1.5" stroke-dasharray="4.9 1.9"/>
<text x="364.5" y="63.95" font-size="9.5" style="stroke-width:0.1px">RPPSMC-2</text>
<line x1="337.3" y1="74.1" x2="357.4" y2="74.1" stroke="#ffa500" stroke-width="1.5" stroke-dasharray="4.9 1.9"/>
<text x="364.5" y="77.5" font-size="9.5" style="stroke-width:0.1px">Fixed-time SMC</text>
<line x1="337.3" y1="87.65" x2="357.4" y2="87.65" stroke="#0000ff" stroke-width="1.5" stroke-dasharray="4.9 1.9"/>
<text x="364.5" y="91.05" font-size="9.5" style="stroke-width:0.1px">Fixed-time SMC with no RPTESO</text>
</svg>
</body></html>
